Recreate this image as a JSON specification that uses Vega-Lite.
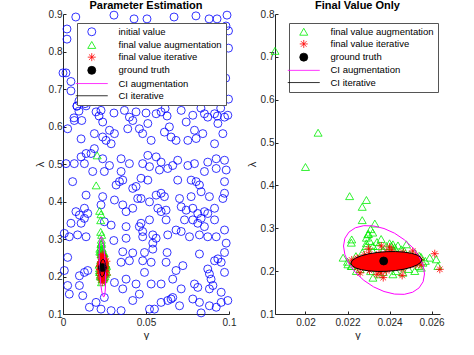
{
"$schema":"https://vega.github.io/schema/vega-lite/v6.json",
"padding":{"left":34,"top":0,"right":0,"bottom":0},
"spacing":10,
"datasets":{
"p1":[
{"s":"a","x":0.0077,"y":0.892},{"s":"a","x":0.0307,"y":0.897},{"s":"a","x":0.0428,"y":0.887},{"s":"a","x":0.0506,"y":0.887},{"s":"a","x":0.0669,"y":0.892},{"s":"a","x":0.0801,"y":0.895},{"s":"a","x":0.088,"y":0.887},{"s":"a","x":0.0928,"y":0.887},{"s":"a","x":0.0988,"y":0.897},
{"s":"a","x":0.0024,"y":0.86},{"s":"a","x":0.0024,"y":0.833},{"s":"a","x":0.0,"y":0.743},{"s":"a","x":0.0018,"y":0.743},{"s":"a","x":0.0048,"y":0.72},{"s":"a","x":0.0048,"y":0.695},{"s":"a","x":0.0096,"y":0.668},{"s":"a","x":0.0084,"y":0.655},{"s":"a","x":0.0096,"y":0.641},{"s":"a","x":0.0139,"y":0.655},{"s":"a","x":0.0066,"y":0.623},
{"s":"a","x":0.0928,"y":0.863},{"s":"a","x":0.0982,"y":0.868},{"s":"a","x":0.0997,"y":0.855},{"s":"a","x":0.0997,"y":0.809},{"s":"a","x":0.095,"y":0.767},{"s":"a","x":0.094,"y":0.74},{"s":"a","x":0.098,"y":0.729},{"s":"a","x":0.0997,"y":0.673},{"s":"a","x":0.095,"y":0.649},{"s":"a","x":0.093,"y":0.628},
{"s":"a","x":0.0217,"y":0.628},{"s":"a","x":0.0307,"y":0.636},{"s":"a","x":0.05,"y":0.636},{"s":"a","x":0.0627,"y":0.628},{"s":"a","x":0.0831,"y":0.649},
{"s":"a","x":0.0084,"y":0.654},{"s":"a","x":0.0133,"y":0.661},{"s":"a","x":0.0068,"y":0.616},{"s":"a","x":0.0113,"y":0.616},{"s":"a","x":0.0199,"y":0.639},{"s":"a","x":0.0229,"y":0.643},{"s":"a","x":0.0239,"y":0.612},{"s":"a","x":0.0189,"y":0.581},{"s":"a","x":0.0239,"y":0.572},{"s":"a","x":0.0189,"y":0.541},{"s":"a","x":0.0028,"y":0.594},{"s":"a","x":0.0109,"y":0.567},{"s":"a","x":0.028,"y":0.59},{"s":"a","x":0.0259,"y":0.563},{"s":"a","x":0.029,"y":0.554},{"s":"a","x":0.031,"y":0.581},{"s":"a","x":0.037,"y":0.643},{"s":"a","x":0.04,"y":0.625},{"s":"a","x":0.042,"y":0.616},{"s":"a","x":0.044,"y":0.639},{"s":"a","x":0.039,"y":0.594},{"s":"a","x":0.046,"y":0.594},{"s":"a","x":0.048,"y":0.581},{"s":"a","x":0.0511,"y":0.608},{"s":"a","x":0.0531,"y":0.563},{"s":"a","x":0.0561,"y":0.634},{"s":"a","x":0.0591,"y":0.639},{"s":"a","x":0.0615,"y":0.648},{"s":"a","x":0.0641,"y":0.599},{"s":"a","x":0.0611,"y":0.585},{"s":"a","x":0.0651,"y":0.572},{"s":"a","x":0.0681,"y":0.563},{"s":"a","x":0.0712,"y":0.643},{"s":"a","x":0.0782,"y":0.63},{"s":"a","x":0.0742,"y":0.612},{"s":"a","x":0.0792,"y":0.59},{"s":"a","x":0.0752,"y":0.563},{"s":"a","x":0.0802,"y":0.568},{"s":"a","x":0.0852,"y":0.634},{"s":"a","x":0.0872,"y":0.625},{"s":"a","x":0.0913,"y":0.634},{"s":"a","x":0.0933,"y":0.608},{"s":"a","x":0.0973,"y":0.625},{"s":"a","x":0.0993,"y":0.63},{"s":"a","x":0.0963,"y":0.581},{"s":"a","x":0.0842,"y":0.581},{"s":"a","x":0.0913,"y":0.554},
{"s":"a","x":0.0018,"y":0.501},{"s":"a","x":0.0068,"y":0.501},{"s":"a","x":0.0109,"y":0.519},{"s":"a","x":0.0139,"y":0.528},{"s":"a","x":0.0169,"y":0.528},{"s":"a","x":0.0239,"y":0.514},{"s":"a","x":0.0129,"y":0.501},{"s":"a","x":0.028,"y":0.496},{"s":"a","x":0.035,"y":0.514},{"s":"a","x":0.04,"y":0.501},{"s":"a","x":0.048,"y":0.501},{"s":"a","x":0.0511,"y":0.523},{"s":"a","x":0.0561,"y":0.519},{"s":"a","x":0.0591,"y":0.505},{"s":"a","x":0.0661,"y":0.496},{"s":"a","x":0.0691,"y":0.51},{"s":"a","x":0.0752,"y":0.496},{"s":"a","x":0.0792,"y":0.501},{"s":"a","x":0.0872,"y":0.505},{"s":"a","x":0.0923,"y":0.514},{"s":"a","x":0.0973,"y":0.51},
{"s":"a","x":0.0058,"y":0.453},{"s":"a","x":0.0179,"y":0.48},{"s":"a","x":0.0249,"y":0.48},{"s":"a","x":0.035,"y":0.48},{"s":"a","x":0.034,"y":0.453},{"s":"a","x":0.036,"y":0.457},{"s":"a","x":0.032,"y":0.444},{"s":"a","x":0.042,"y":0.435},{"s":"a","x":0.044,"y":0.44},{"s":"a","x":0.047,"y":0.462},{"s":"a","x":0.0511,"y":0.457},{"s":"a","x":0.0521,"y":0.493},{"s":"a","x":0.0581,"y":0.484},{"s":"a","x":0.0631,"y":0.488},{"s":"a","x":0.0852,"y":0.48},{"s":"a","x":0.0923,"y":0.488},{"s":"a","x":0.0983,"y":0.484},{"s":"a","x":0.0691,"y":0.457},{"s":"a","x":0.0772,"y":0.457},{"s":"a","x":0.0802,"y":0.453},{"s":"a","x":0.0822,"y":0.444},{"s":"a","x":0.0973,"y":0.453},
{"s":"a","x":0.0139,"y":0.417},{"s":"a","x":0.0239,"y":0.413},{"s":"a","x":0.0229,"y":0.391},{"s":"a","x":0.031,"y":0.404},{"s":"a","x":0.036,"y":0.391},{"s":"a","x":0.038,"y":0.373},{"s":"a","x":0.042,"y":0.382},{"s":"a","x":0.045,"y":0.408},{"s":"a","x":0.047,"y":0.408},{"s":"a","x":0.0521,"y":0.399},{"s":"a","x":0.0561,"y":0.417},{"s":"a","x":0.0591,"y":0.422},{"s":"a","x":0.0611,"y":0.413},{"s":"a","x":0.0571,"y":0.382},{"s":"a","x":0.0591,"y":0.373},{"s":"a","x":0.0621,"y":0.377},{"s":"a","x":0.0702,"y":0.408},{"s":"a","x":0.0772,"y":0.413},{"s":"a","x":0.0832,"y":0.426},{"s":"a","x":0.0882,"y":0.413},{"s":"a","x":0.0963,"y":0.408},{"s":"a","x":0.0973,"y":0.422},{"s":"a","x":0.0712,"y":0.386},{"s":"a","x":0.0742,"y":0.377},{"s":"a","x":0.0782,"y":0.382},{"s":"a","x":0.0812,"y":0.368},{"s":"a","x":0.0852,"y":0.373},{"s":"a","x":0.0872,"y":0.368},{"s":"a","x":0.0913,"y":0.382},
{"s":"a","x":0.0078,"y":0.373},{"s":"a","x":0.0129,"y":0.382},{"s":"a","x":0.0099,"y":0.364},{"s":"a","x":0.0149,"y":0.368},{"s":"a","x":0.0129,"y":0.355},{"s":"a","x":0.0109,"y":0.342},{"s":"a","x":0.0048,"y":0.342},{"s":"a","x":0.0249,"y":0.346},{"s":"a","x":0.029,"y":0.337},{"s":"a","x":0.038,"y":0.333},{"s":"a","x":0.047,"y":0.342},{"s":"a","x":0.046,"y":0.333},{"s":"a","x":0.048,"y":0.32},{"s":"a","x":0.0521,"y":0.351},{"s":"a","x":0.0621,"y":0.351},{"s":"a","x":0.0681,"y":0.324},{"s":"a","x":0.0712,"y":0.32},{"s":"a","x":0.0732,"y":0.351},{"s":"a","x":0.0782,"y":0.351},{"s":"a","x":0.0812,"y":0.342},{"s":"a","x":0.0832,"y":0.355},{"s":"a","x":0.0852,"y":0.333},{"s":"a","x":0.0913,"y":0.351},{"s":"a","x":0.0973,"y":0.324},{"s":"a","x":0.0923,"y":0.306},{"s":"a","x":0.0872,"y":0.306},{"s":"a","x":0.0822,"y":0.311},{"s":"a","x":0.0762,"y":0.306},{"s":"a","x":0.0631,"y":0.311},{"s":"a","x":0.0561,"y":0.302},{"s":"a","x":0.0541,"y":0.311},{"s":"a","x":0.048,"y":0.306},{"s":"a","x":0.038,"y":0.302},{"s":"a","x":0.0088,"y":0.311},{"s":"a","x":0.0038,"y":0.306},{"s":"a","x":0.0008,"y":0.315},{"s":"a","x":0.0139,"y":0.306},
{"s":"a","x":0.0306,"y":0.296},{"s":"a","x":0.0541,"y":0.289},{"s":"a","x":0.0983,"y":0.289},{"s":"a","x":0.0028,"y":0.251},{"s":"a","x":0.036,"y":0.266},{"s":"a","x":0.042,"y":0.263},{"s":"a","x":0.035,"y":0.238},{"s":"a","x":0.0491,"y":0.264},{"s":"a","x":0.0541,"y":0.273},{"s":"a","x":0.0627,"y":0.264},{"s":"a","x":0.0621,"y":0.238},{"s":"a","x":0.0822,"y":0.26},{"s":"a","x":0.0913,"y":0.242},{"s":"a","x":0.0953,"y":0.238},{"s":"a","x":0.0973,"y":0.264},{"s":"a","x":0.04,"y":0.242},{"s":"a","x":0.048,"y":0.242},{"s":"a","x":0.0531,"y":0.238},{"s":"a","x":0.0491,"y":0.211},{"s":"a","x":0.0722,"y":0.229},{"s":"a","x":0.0681,"y":0.216},{"s":"a","x":0.0008,"y":0.216},{"s":"a","x":0.0099,"y":0.202},{"s":"a","x":0.0129,"y":0.211},{"s":"a","x":0.0149,"y":0.216},{"s":"a","x":0.0028,"y":0.176},{"s":"a","x":0.0038,"y":0.153},{"s":"a","x":0.0099,"y":0.176},{"s":"a","x":0.031,"y":0.184},{"s":"a","x":0.038,"y":0.193},{"s":"a","x":0.044,"y":0.18},{"s":"a","x":0.036,"y":0.167},{"s":"a","x":0.0531,"y":0.18},{"s":"a","x":0.0591,"y":0.18},{"s":"a","x":0.0661,"y":0.193},{"s":"a","x":0.0712,"y":0.167},{"s":"a","x":0.0661,"y":0.144},{"s":"a","x":0.0792,"y":0.18},{"s":"a","x":0.0812,"y":0.171},{"s":"a","x":0.0882,"y":0.207},{"s":"a","x":0.0892,"y":0.193},{"s":"a","x":0.0903,"y":0.176},{"s":"a","x":0.0872,"y":0.22},{"s":"a","x":0.0933,"y":0.247},{"s":"a","x":0.0973,"y":0.211},{"s":"a","x":0.0882,"y":0.167},{"s":"a","x":0.0953,"y":0.158},{"s":"a","x":0.0119,"y":0.149},{"s":"a","x":0.0249,"y":0.144},{"s":"a","x":0.0199,"y":0.131},{"s":"a","x":0.0229,"y":0.113},{"s":"a","x":0.029,"y":0.109},{"s":"a","x":0.035,"y":0.109},{"s":"a","x":0.042,"y":0.136},{"s":"a","x":0.046,"y":0.153},{"s":"a","x":0.0521,"y":0.113},{"s":"a","x":0.0551,"y":0.113},{"s":"a","x":0.0591,"y":0.131},{"s":"a","x":0.0631,"y":0.136},{"s":"a","x":0.0651,"y":0.14},{"s":"a","x":0.0702,"y":0.122},{"s":"a","x":0.0782,"y":0.14},{"s":"a","x":0.0822,"y":0.131},{"s":"a","x":0.0832,"y":0.103},{"s":"a","x":0.0882,"y":0.122},{"s":"a","x":0.0923,"y":0.118},{"s":"a","x":0.0953,"y":0.131},{"s":"a","x":0.0993,"y":0.136},{"s":"a","x":0.0159,"y":0.118},
{"s":"b","x":0.01855,"y":0.714},{"s":"b","x":0.0206,"y":0.523},{"s":"b","x":0.02,"y":0.443},{"s":"b","x":0.0221,"y":0.375},{"s":"b","x":0.0229,"y":0.366},{"s":"b","x":0.0227,"y":0.35},{"s":"b","x":0.0227,"y":0.319},{"s":"b","x":0.0233,"y":0.311},{"s":"b","x":0.0231,"y":0.298},{"s":"b","x":0.023,"y":0.287},{"s":"b","x":0.0222,"y":0.274},
{"s":"b","x":0.02218,"y":0.2664},{"s":"b","x":0.02179,"y":0.2314},{"s":"b","x":0.02202,"y":0.2159},{"s":"b","x":0.02297,"y":0.286},{"s":"b","x":0.02306,"y":0.2703},{"s":"b","x":0.02321,"y":0.2587},{"s":"b","x":0.02289,"y":0.2587},{"s":"b","x":0.02345,"y":0.2587},{"s":"b","x":0.02385,"y":0.2587},{"s":"b","x":0.02409,"y":0.2587},{"s":"b","x":0.02424,"y":0.2547},{"s":"b","x":0.02456,"y":0.251},{"s":"b","x":0.02416,"y":0.2626},{"s":"b","x":0.02496,"y":0.2393},{"s":"b","x":0.02543,"y":0.2353},{"s":"b","x":0.02559,"y":0.2197},{"s":"b","x":0.02551,"y":0.208},{"s":"b","x":0.0252,"y":0.2003},{"s":"b","x":0.02464,"y":0.1964},{"s":"b","x":0.02416,"y":0.1926},{"s":"b","x":0.02353,"y":0.1926},{"s":"b","x":0.02321,"y":0.1847},{"s":"b","x":0.02242,"y":0.2003},{"s":"b","x":0.02218,"y":0.212},{"s":"b","x":0.02591,"y":0.2314},{"s":"b","x":0.02622,"y":0.2276},{"s":"b","x":0.0263,"y":0.212},{"s":"b","x":0.0248,"y":0.2626},
{"s":"b","x":0.0224,"y":0.235},{"s":"b","x":0.0227,"y":0.243},{"s":"b","x":0.0232,"y":0.247},{"s":"b","x":0.0237,"y":0.249},{"s":"b","x":0.0242,"y":0.249},{"s":"b","x":0.0247,"y":0.247},{"s":"b","x":0.0252,"y":0.243},{"s":"b","x":0.0255,"y":0.233},{"s":"b","x":0.0257,"y":0.224},{"s":"b","x":0.0254,"y":0.212},{"s":"b","x":0.0249,"y":0.205},{"s":"b","x":0.0243,"y":0.2},{"s":"b","x":0.0237,"y":0.198},{"s":"b","x":0.0231,"y":0.2},{"s":"b","x":0.0226,"y":0.205},{"s":"b","x":0.0222,"y":0.212},{"s":"b","x":0.022,"y":0.222},{"s":"b","x":0.0232,"y":0.29},{"s":"b","x":0.0229,"y":0.278},{"s":"b","x":0.0234,"y":0.268},{"s":"b","x":0.024,"y":0.265},{"s":"b","x":0.0236,"y":0.275},{"s":"b","x":0.0244,"y":0.26},{"s":"b","x":0.0229,"y":0.265}
],
"p2":[
{"s":"c","x":0.025456,"y":0.2263},{"s":"c","x":0.02524,"y":0.2149},{"s":"c","x":0.024653,"y":0.2056},{"s":"c","x":0.02385,"y":0.2007},{"s":"c","x":0.023047,"y":0.2017},{"s":"c","x":0.022459,"y":0.2083},{"s":"c","x":0.022252,"y":0.2187},{"s":"c","x":0.022459,"y":0.2301},{"s":"c","x":0.023047,"y":0.2394},{"s":"c","x":0.02385,"y":0.2443},{"s":"c","x":0.024653,"y":0.2433},{"s":"c","x":0.025241,"y":0.2368},
{"s":"c","x":0.02486,"y":0.2249},{"s":"c","x":0.024567,"y":0.2145},{"s":"c","x":0.02385,"y":0.2087},{"s":"c","x":0.023133,"y":0.211},{"s":"c","x":0.022836,"y":0.2201},{"s":"c","x":0.023133,"y":0.2305},{"s":"c","x":0.02385,"y":0.2363},{"s":"c","x":0.024567,"y":0.234},
{"s":"c","x":0.02436,"y":0.2237},{"s":"c","x":0.02385,"y":0.2156},{"s":"c","x":0.02334,"y":0.2213},{"s":"c","x":0.02385,"y":0.2294},
{"s":"c","x":0.0225,"y":0.215},{"s":"c","x":0.0225,"y":0.228},{"s":"c","x":0.023,"y":0.207},{"s":"c","x":0.023,"y":0.218},{"s":"c","x":0.023,"y":0.234},{"s":"c","x":0.0235,"y":0.204},{"s":"c","x":0.0235,"y":0.226},{"s":"c","x":0.0235,"y":0.24},{"s":"c","x":0.024,"y":0.206},{"s":"c","x":0.024,"y":0.219},{"s":"c","x":0.024,"y":0.238},{"s":"c","x":0.0245,"y":0.21},{"s":"c","x":0.0245,"y":0.228},{"s":"c","x":0.0245,"y":0.239},{"s":"c","x":0.025,"y":0.215},{"s":"c","x":0.025,"y":0.231},{"s":"c","x":0.0253,"y":0.222},{"s":"c","x":0.0228,"y":0.238},{"s":"c","x":0.0236,"y":0.196},{"s":"c","x":0.0241,"y":0.249},
{"s":"c","x":0.02615,"y":0.2407},{"s":"c","x":0.02639,"y":0.2043},{"s":"c","x":0.02361,"y":0.2587},{"s":"c","x":0.0234,"y":0.1926},{"s":"c","x":0.0226,"y":0.196},{"s":"c","x":0.0251,"y":0.247},{"s":"c","x":0.0222,"y":0.226},{"s":"c","x":0.0255,"y":0.214},{"s":"c","x":0.0246,"y":0.19},{"s":"c","x":0.023,"y":0.252},{"s":"c","x":0.024,"y":0.256},{"s":"c","x":0.0237,"y":0.185},
{"s":"d","x":0.02372,"y":0.2237}
],
"eA":[
{"x":0.025663,"y":0.1933},{"x":0.025597,"y":0.2134},{"x":0.025405,"y":0.2344},{"x":0.025099,"y":0.2549},{"x":0.0247,"y":0.2733},{"x":0.024235,"y":0.2886},{"x":0.023736,"y":0.2995},{"x":0.023237,"y":0.3055},{"x":0.022772,"y":0.3061},{"x":0.022373,"y":0.3012},{"x":0.022067,"y":0.2911},{"x":0.021875,"y":0.2767},{"x":0.021809,"y":0.2587},{"x":0.021875,"y":0.2386},{"x":0.022067,"y":0.2176},{"x":0.022373,"y":0.1971},{"x":0.022772,"y":0.1787},{"x":0.023237,"y":0.1634},{"x":0.023736,"y":0.1525},{"x":0.024235,"y":0.1465},{"x":0.0247,"y":0.1459},{"x":0.025099,"y":0.1508},{"x":0.025405,"y":0.1609},{"x":0.025597,"y":0.1753},{"x":0.025663,"y":0.1933}
],
"eI":[
{"x":0.02554,"y":0.2265},{"x":0.025482,"y":0.2205},{"x":0.025314,"y":0.2145},{"x":0.025045,"y":0.2091},{"x":0.024695,"y":0.2047},{"x":0.024287,"y":0.2014},{"x":0.02385,"y":0.1996},{"x":0.023413,"y":0.1993},{"x":0.023005,"y":0.2006},{"x":0.022655,"y":0.2034},{"x":0.022386,"y":0.2075},{"x":0.022218,"y":0.2127},{"x":0.02216,"y":0.2185},{"x":0.022218,"y":0.2245},{"x":0.022386,"y":0.2305},{"x":0.022655,"y":0.2359},{"x":0.023005,"y":0.2403},{"x":0.023413,"y":0.2436},{"x":0.02385,"y":0.2454},{"x":0.024287,"y":0.2457},{"x":0.024695,"y":0.2444},{"x":0.025045,"y":0.2416},{"x":0.025314,"y":0.2375},{"x":0.025482,"y":0.2323},{"x":0.02554,"y":0.2265}
]
},
"config":{
"font":"Liberation Sans",
"view":{"stroke":null},
"axis":{"grid":false,"domainColor":"#262626","tickColor":"#262626","labelColor":"#262626","labelFont":"Liberation Sans","labelFontSize":10,"titleFont":"Liberation Sans","titleFontSize":11,"titleFontWeight":"normal","titleColor":"#262626","tickSize":-3,"labelPadding":4,"labelFlush":false,"labelOverlap":false,"titlePadding":3},
"axisX":{"labelPadding":6,"titlePadding":2},
"title":{"font":"Liberation Sans","fontSize":11,"fontWeight":"bold","color":"#000000","offset":-2},
"legend":{"orient":"none","legendX":14,"legendY":9,"fillColor":"#ffffff","strokeColor":"#555555","padding":4,"symbolSize":64,"symbolOffset":6,"labelOffset":22,"labelFont":"Liberation Sans","labelFontSize":9.5,"labelColor":"#000000","rowPadding":1.2,"symbolStrokeWidth":0.8}
},
"resolve":{"scale":{"x":"independent","y":"independent","stroke":"independent","fill":"independent","shape":"independent"}},
"hconcat":[
{
"width":166,"height":300,
"title":"Parameter Estimation",
"encoding":{
"x":{"field":"x","type":"quantitative","scale":{"domain":[0,0.1],"nice":false,"zero":false},"axis":{"values":[0,0.05,0.1],"format":"~g","title":"γ"}},
"y":{"field":"y","type":"quantitative","scale":{"domain":[0.1,0.9],"nice":false,"zero":false},"axis":{"values":[0.1,0.2,0.3,0.4,0.5,0.6,0.7,0.8,0.9],"format":".1f","title":"λ"}}
},
"layer":[
{"data":{"name":"p1"},"mark":{"type":"point","size":64,"strokeWidth":0.8,"opacity":1},
"encoding":{
"stroke":{"field":"s","type":"nominal","scale":{"domain":["a","b","c","d","e","f"],"range":["#0000ff","#00ee00","#ff0000","#000000","#ff00ff","#000000"]},"legend":{"title":null,"labelExpr":"datum.label=='a'?'initial value':datum.label=='b'?'final value augmentation':datum.label=='c'?'final value iterative':datum.label=='d'?'ground truth':datum.label=='e'?'CI augmentation':'CI iterative'"}},
"fill":{"field":"s","type":"nominal","scale":{"domain":["a","b","c","d","e","f"],"range":["transparent","transparent","transparent","#000000","transparent","transparent"]},"legend":{"title":null,"labelExpr":"datum.label=='a'?'initial value':datum.label=='b'?'final value augmentation':datum.label=='c'?'final value iterative':datum.label=='d'?'ground truth':datum.label=='e'?'CI augmentation':'CI iterative'"}},
"shape":{"field":"s","type":"nominal","scale":{"domain":["a","b","c","d","e","f"],"range":["circle","triangle-up","M-1,0L1,0M0,-1L0,1M-0.7,-0.7L0.7,0.7M-0.7,0.7L0.7,-0.7","circle","M-4,0L4,0","M-4,0L4,0"]},"legend":{"title":null,"labelExpr":"datum.label=='a'?'initial value':datum.label=='b'?'final value augmentation':datum.label=='c'?'final value iterative':datum.label=='d'?'ground truth':datum.label=='e'?'CI augmentation':'CI iterative'"}}
}},
{"data":{"name":"eI"},"mark":{"type":"line","fill":"#ff0000","strokeOpacity":0},"encoding":{"order":{"value":null}}},
{"data":{"name":"p2"},"mark":{"type":"point","size":64,"strokeWidth":0.8,"opacity":1},
"encoding":{
"stroke":{"field":"s","type":"nominal","scale":{"domain":["a","b","c","d","e","f"],"range":["#0000ff","#00ee00","#ff0000","#000000","#ff00ff","#000000"]},"legend":{"title":null,"labelExpr":"datum.label=='a'?'initial value':datum.label=='b'?'final value augmentation':datum.label=='c'?'final value iterative':datum.label=='d'?'ground truth':datum.label=='e'?'CI augmentation':'CI iterative'"}},
"fill":{"field":"s","type":"nominal","scale":{"domain":["a","b","c","d","e","f"],"range":["transparent","transparent","transparent","#000000","transparent","transparent"]},"legend":{"title":null,"labelExpr":"datum.label=='a'?'initial value':datum.label=='b'?'final value augmentation':datum.label=='c'?'final value iterative':datum.label=='d'?'ground truth':datum.label=='e'?'CI augmentation':'CI iterative'"}},
"shape":{"field":"s","type":"nominal","scale":{"domain":["a","b","c","d","e","f"],"range":["circle","triangle-up","M-1,0L1,0M0,-1L0,1M-0.7,-0.7L0.7,0.7M-0.7,0.7L0.7,-0.7","circle","M-4,0L4,0","M-4,0L4,0"]},"legend":{"title":null,"labelExpr":"datum.label=='a'?'initial value':datum.label=='b'?'final value augmentation':datum.label=='c'?'final value iterative':datum.label=='d'?'ground truth':datum.label=='e'?'CI augmentation':'CI iterative'"}}
}},
{"data":{"name":"eA"},"mark":{"type":"line","stroke":"#ff00ff","strokeWidth":1},"encoding":{"order":{"value":null}}},
{"data":{"name":"eI"},"mark":{"type":"line","stroke":"#000000","strokeWidth":1},"encoding":{"order":{"value":null}}}
]
},
{
"width":165,"height":300,
"title":"Final Value Only",
"encoding":{
"x":{"field":"x","type":"quantitative","scale":{"domain":[0.01855,0.0264],"nice":false,"zero":false},"axis":{"values":[0.02,0.022,0.024,0.026],"format":"~g","title":"γ"}},
"y":{"field":"y","type":"quantitative","scale":{"domain":[0.1,0.8],"nice":false,"zero":false},"axis":{"values":[0.1,0.2,0.3,0.4,0.5,0.6,0.7,0.8],"format":".1f","title":"λ"}}
},
"layer":[
{"data":{"name":"p1"},"transform":[{"filter":"datum.s=='b'"}],"mark":{"type":"point","size":64,"strokeWidth":0.8,"opacity":1},
"encoding":{
"stroke":{"field":"s","type":"nominal","scale":{"domain":["b","c","d","e","f"],"range":["#00ee00","#ff0000","#000000","#ff00ff","#000000"]},"legend":{"title":null,"labelExpr":"datum.label=='b'?'final value augmentation':datum.label=='c'?'final value iterative':datum.label=='d'?'ground truth':datum.label=='e'?'CI augmentation':'CI iterative'"}},
"fill":{"field":"s","type":"nominal","scale":{"domain":["b","c","d","e","f"],"range":["transparent","transparent","#000000","transparent","transparent"]},"legend":{"title":null,"labelExpr":"datum.label=='b'?'final value augmentation':datum.label=='c'?'final value iterative':datum.label=='d'?'ground truth':datum.label=='e'?'CI augmentation':'CI iterative'"}},
"shape":{"field":"s","type":"nominal","scale":{"domain":["b","c","d","e","f"],"range":["triangle-up","M-1,0L1,0M0,-1L0,1M-0.7,-0.7L0.7,0.7M-0.7,0.7L0.7,-0.7","circle","M-4,0L4,0","M-4,0L4,0"]},"legend":{"title":null,"labelExpr":"datum.label=='b'?'final value augmentation':datum.label=='c'?'final value iterative':datum.label=='d'?'ground truth':datum.label=='e'?'CI augmentation':'CI iterative'"}}
}},
{"data":{"name":"eI"},"mark":{"type":"line","fill":"#ff0000","strokeOpacity":0},"encoding":{"order":{"value":null}}},
{"data":{"name":"p2"},"mark":{"type":"point","size":64,"strokeWidth":0.8,"opacity":1},
"encoding":{
"stroke":{"field":"s","type":"nominal","scale":{"domain":["b","c","d","e","f"],"range":["#00ee00","#ff0000","#000000","#ff00ff","#000000"]},"legend":{"title":null,"labelExpr":"datum.label=='b'?'final value augmentation':datum.label=='c'?'final value iterative':datum.label=='d'?'ground truth':datum.label=='e'?'CI augmentation':'CI iterative'"}},
"fill":{"field":"s","type":"nominal","scale":{"domain":["b","c","d","e","f"],"range":["transparent","transparent","#000000","transparent","transparent"]},"legend":{"title":null,"labelExpr":"datum.label=='b'?'final value augmentation':datum.label=='c'?'final value iterative':datum.label=='d'?'ground truth':datum.label=='e'?'CI augmentation':'CI iterative'"}},
"shape":{"field":"s","type":"nominal","scale":{"domain":["b","c","d","e","f"],"range":["triangle-up","M-1,0L1,0M0,-1L0,1M-0.7,-0.7L0.7,0.7M-0.7,0.7L0.7,-0.7","circle","M-4,0L4,0","M-4,0L4,0"]},"legend":{"title":null,"labelExpr":"datum.label=='b'?'final value augmentation':datum.label=='c'?'final value iterative':datum.label=='d'?'ground truth':datum.label=='e'?'CI augmentation':'CI iterative'"}}
}},
{"data":{"name":"eA"},"mark":{"type":"line","stroke":"#ff00ff","strokeWidth":1},"encoding":{"order":{"value":null}}},
{"data":{"name":"eI"},"mark":{"type":"line","stroke":"#000000","strokeWidth":1},"encoding":{"order":{"value":null}}}
]
}
]
}
